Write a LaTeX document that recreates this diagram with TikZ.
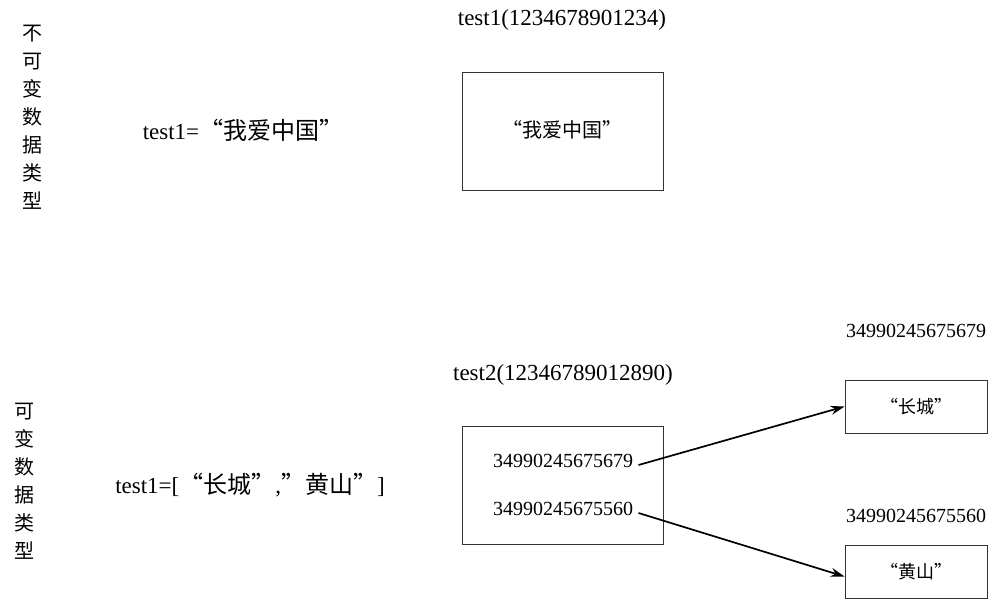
\documentclass[tikz,border=0pt]{standalone}
\usepackage{fontspec}
\setmainfont{Liberation Serif}
\newfontfamily\cjk{Noto Sans CJK SC}
\usetikzlibrary{arrows.meta}
\tikzset{
  membox/.style={draw=black!80, line width=0.9pt, minimum width=201pt, minimum height=118pt, inner sep=0pt},
  strbox/.style={draw=black!80, line width=0.9pt, minimum width=142pt, minimum height=53pt, inner sep=0pt},
  ptr/.style={-{Stealth[length=14pt,width=9pt]}, line width=1.7pt},
  sidelabel/.style={align=center, font=\cjk\fontsize{20}{28}\selectfont},
  addr/.style={font=\fontsize{20}{24}\selectfont},
  title/.style={font=\fontsize{23}{27}\selectfont},
}
\begin{document}
\begin{tikzpicture}[x=1pt,y=-1pt]
	%%%%% START %%%%%
	\useasboundingbox (0,0) rectangle (997,608);
	
	% immutable part
	\node[sidelabel] (immut) at (33,117) {不\\可\\变\\数\\据\\类\\型};
	\node[title] (assign1) at (243,130) {test1={\cjk\fontsize{24}{28}\selectfont “我爱中国”}};
	\node[title] (id1) at (562,20) {test1(1234678901234)};
	\node[membox] (obj1) at (562.5,131) {};
	\node[font=\fontsize{20}{24}\selectfont] (val1) at (562,130) {\cjk “我爱中国”};
	
	% mutable part
	\node[sidelabel] (mut) at (25,481) {可\\变\\数\\据\\类\\型};
	\node[title] (assign2) at (250,485) {test1=[{\cjk\fontsize{24}{28}\selectfont “长城”},{\cjk\fontsize{24}{28}\selectfont ”黄山”}]};
	\node[title] (id2) at (563,375) {test2(12346789012890)};
	\node[membox] (obj2) at (562.5,485) {};
	\node[addr] (ref1) at (563,461) {34990245675679};
	\node[addr] (ref2) at (563,509) {34990245675560};
	
	\node[strbox] (cc) at (916,406.5) {{\cjk\fontsize{18}{20}\selectfont “长城”}};
	\node[addr] (ccid) at (916,331) {34990245675679};
	\node[strbox] (hs) at (916,571.5) {{\cjk\fontsize{18}{20}\selectfont “黄山”}};
	\node[addr] (hsid) at (916,516) {34990245675560};
	
	\draw[ptr] ([xshift=2pt,yshift=-4pt]ref1.east) -- (cc.west);
	\draw[ptr] ([xshift=2pt,yshift=-4pt]ref2.east) -- ([yshift=-5pt]hs.west);
	%%%%% END %%%%%
\end{tikzpicture}
\end{document}
